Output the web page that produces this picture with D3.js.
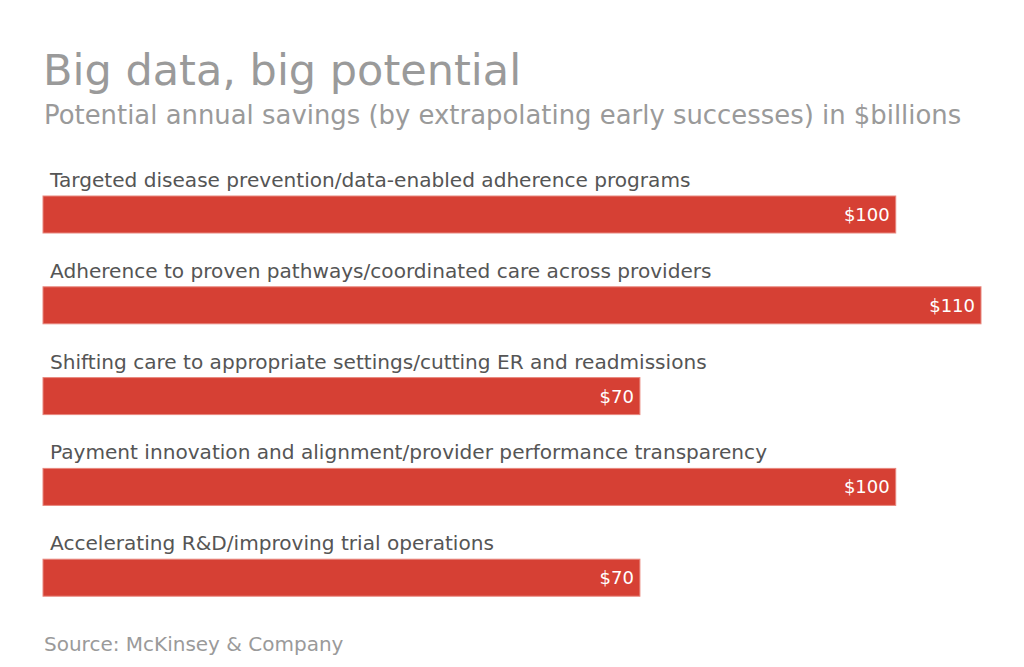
<!DOCTYPE html>
<html><head><meta charset="utf-8">
<script src="https://cdn.jsdelivr.net/npm/d3@7"></script>
<style>body{margin:0;background:#fff}svg{display:block}text{font-family:"DejaVu Sans",Verdana,sans-serif}</style>
</head><body>
<svg id="c" width="1024" height="667"></svg>
<script>
const categories = [
  "Targeted disease prevention/data-enabled adherence programs",
  "Adherence to proven pathways/coordinated care across providers",
  "Shifting care to appropriate settings/cutting ER and readmissions",
  "Payment innovation and alignment/provider performance transparency",
  "Accelerating R&D/improving trial operations"
];
const values = [100, 110, 70, 100, 70];
const valueLabels = ["$100", "$110", "$70", "$100", "$70"];
const title = "Big data, big potential";
const subtitle = "Potential annual savings (by extrapolating early successes) in $billions";
const source = "Source: McKinsey & Company";

const svg = d3.select("#c");
const x = d3.scaleLinear().domain([0, 110]).range([43, 981]);
const y = d3.scaleBand().domain(d3.range(categories.length)).range([166, 620]).paddingInner(0).paddingOuter(0);

svg.append("text").attr("x", 43).attr("y", 85).attr("fill", "#9a9a9a").attr("font-size", 43).text(title);
svg.append("text").attr("x", 44).attr("y", 124).attr("fill", "#9a9a9a").attr("font-size", 25.9).text(subtitle);
svg.append("text").attr("x", 44).attr("y", 651).attr("fill", "#9a9a9a").attr("font-size", 20).text(source);

const g = svg.selectAll("g.row").data(categories).join("g").attr("class", "row");
const barTop = i => y(i) + 30;
g.append("text").attr("x", 50).attr("y", (d, i) => y(i) + 21).attr("fill", "#555").attr("font-size", 20.1).text(d => d);
g.append("rect").attr("x", x(0)).attr("y", (d, i) => barTop(i)).attr("height", 37)
  .attr("width", (d, i) => x(values[i]) - x(0)).attr("fill", "#d64034").attr("stroke", "#e8877e").attr("stroke-width", 1);
g.append("text").attr("x", (d, i) => x(values[i]) - 6).attr("y", (d, i) => barTop(i) + 25)
  .attr("text-anchor", "end").attr("fill", "#fff").attr("font-size", 18).text((d, i) => valueLabels[i]);
</script>
</body></html>
